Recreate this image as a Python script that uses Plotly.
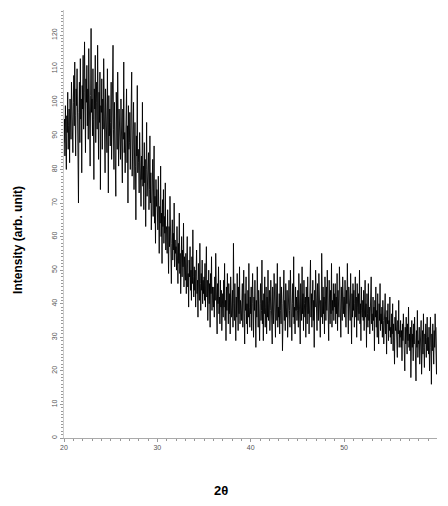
"""XRD pattern chart."""
import plotly.graph_objects as go

two_theta_start = 20.0
two_theta_step = 0.05

# intensity read per 0.05 deg, one row per degree (20 .. 59.95)
intensity_rows = [
    [88, 95, 84, 99, 90, 80, 96, 91, 103, 86, 93, 98, 82, 101, 94, 89, 106, 92, 97, 85],
    [100, 108, 93, 112, 96, 84, 104, 99, 110, 91, 102, 70, 97, 106, 88, 113, 95, 101, 79, 105],
    [98, 114, 92, 103, 118, 96, 85, 107, 100, 111, 93, 104, 89, 116, 99, 108, 81, 102, 122, 97],
    [101, 90, 110, 95, 77, 104, 98, 114, 88, 100, 106, 92, 117, 96, 83, 103, 94, 109, 74, 99],
    [97, 107, 86, 101, 92, 113, 89, 96, 79, 104, 93, 99, 85, 110, 95, 73, 102, 90, 98, 87],
    [94, 106, 83, 97, 89, 117, 92, 80, 100, 88, 95, 72, 103, 90, 86, 109, 93, 81, 98, 91],
    [92, 83, 101, 87, 94, 76, 98, 89, 112, 85, 91, 79, 96, 88, 104, 82, 93, 70, 99, 86],
    [88, 97, 80, 91, 85, 109, 78, 89, 83, 100, 74, 87, 94, 81, 65, 90, 84, 105, 79, 86],
    [82, 73, 91, 79, 86, 69, 84, 77, 100, 75, 81, 68, 88, 76, 83, 63, 80, 94, 72, 78],
    [76, 85, 68, 74, 90, 70, 79, 62, 75, 71, 83, 66, 73, 87, 64, 72, 58, 77, 69, 74],
    [70, 62, 78, 66, 55, 69, 64, 81, 60, 67, 52, 71, 63, 74, 58, 66, 61, 76, 56, 63],
    [62, 55, 68, 59, 49, 63, 57, 72, 54, 60, 46, 58, 65, 53, 61, 56, 70, 51, 59, 55],
    [57, 50, 63, 54, 46, 58, 52, 67, 49, 55, 43, 53, 60, 48, 56, 51, 64, 45, 54, 50],
    [47, 55, 43, 51, 60, 45, 49, 39, 53, 48, 57, 44, 50, 41, 54, 46, 62, 48, 42, 51],
    [44, 50, 39, 48, 56, 43, 47, 36, 52, 45, 41, 58, 46, 38, 49, 44, 53, 40, 47, 43],
    [48, 41, 52, 39, 45, 57, 42, 47, 35, 44, 50, 40, 46, 33, 49, 43, 54, 38, 45, 41],
    [39, 45, 36, 48, 41, 55, 38, 43, 31, 46, 40, 51, 37, 42, 34, 47, 39, 44, 32, 42],
    [43, 36, 47, 39, 52, 35, 41, 29, 45, 38, 49, 40, 34, 46, 37, 43, 31, 48, 39, 36],
    [37, 44, 33, 58, 40, 35, 46, 38, 29, 42, 36, 49, 39, 32, 45, 37, 51, 34, 41, 38],
    [35, 41, 46, 33, 39, 50, 37, 28, 43, 38, 48, 34, 40, 31, 44, 36, 52, 39, 33, 42],
    [37, 45, 32, 40, 49, 36, 30, 42, 38, 47, 34, 27, 41, 36, 51, 39, 33, 44, 37, 29],
    [40, 46, 35, 38, 53, 34, 41, 29, 43, 37, 48, 33, 39, 45, 31, 42, 36, 50, 35, 40],
    [44, 32, 38, 47, 36, 41, 28, 45, 39, 34, 49, 37, 42, 30, 46, 38, 35, 52, 33, 39],
    [36, 43, 31, 48, 38, 34, 45, 40, 26, 42, 37, 50, 35, 41, 32, 46, 39, 36, 44, 30],
    [41, 35, 47, 38, 33, 50, 37, 43, 29, 40, 46, 36, 54, 34, 39, 31, 45, 38, 42, 35],
    [38, 44, 33, 49, 36, 41, 28, 46, 39, 35, 51, 37, 43, 32, 47, 40, 36, 42, 30, 45],
    [39, 34, 48, 37, 42, 31, 46, 40, 53, 36, 43, 33, 38, 47, 35, 41, 27, 44, 39, 50],
    [37, 43, 32, 46, 40, 35, 49, 38, 44, 30, 41, 36, 55, 39, 34, 45, 37, 42, 31, 48],
    [40, 35, 45, 38, 50, 36, 42, 29, 47, 39, 34, 44, 37, 52, 33, 41, 38, 46, 35, 43],
    [39, 46, 34, 42, 37, 49, 32, 44, 40, 36, 51, 38, 43, 30, 45, 39, 35, 48, 41, 37],
    [42, 36, 47, 39, 33, 44, 40, 52, 37, 31, 45, 38, 41, 35, 49, 39, 28, 43, 36, 46],
    [38, 44, 33, 40, 48, 36, 42, 30, 46, 39, 35, 43, 37, 50, 34, 40, 29, 45, 38, 36],
    [41, 35, 44, 32, 38, 47, 36, 40, 27, 43, 37, 33, 46, 35, 39, 31, 42, 36, 48, 34],
    [37, 32, 42, 35, 39, 26, 41, 36, 45, 33, 38, 30, 43, 34, 28, 40, 35, 46, 32, 37],
    [34, 39, 30, 41, 35, 28, 37, 33, 43, 31, 36, 25, 38, 34, 40, 29, 35, 32, 42, 30],
    [33, 28, 37, 31, 40, 26, 34, 30, 22, 36, 32, 38, 29, 33, 24, 35, 31, 41, 27, 32],
    [30, 35, 27, 32, 23, 34, 29, 37, 26, 31, 20, 33, 28, 36, 30, 25, 34, 29, 39, 27],
    [31, 26, 33, 18, 29, 35, 27, 31, 23, 34, 28, 36, 25, 30, 17, 32, 27, 38, 24, 29],
    [28, 33, 22, 30, 26, 35, 19, 29, 32, 25, 37, 27, 21, 31, 28, 34, 24, 30, 36, 26],
    [30, 25, 33, 20, 28, 36, 27, 16, 31, 26, 34, 29, 22, 32, 27, 37, 24, 30, 19, 33],
]

intensity = [v for row in intensity_rows for v in row]
two_theta = [round(two_theta_start + i * two_theta_step, 2) for i in range(len(intensity))]

fig = go.Figure()
fig.add_trace(go.Scatter(x=two_theta, y=intensity, mode="lines",
                         line=dict(color="black", width=0.9), showlegend=False))

axis_font = dict(family="Arial, Liberation Sans", size=7, color="#555555")
fig.update_xaxes(range=[20, 59.95], tick0=20, dtick=10, ticks="outside", ticklen=3,
                 tickcolor="#999999", showline=True, linecolor="#aaaaaa", linewidth=1,
                 showgrid=False, zeroline=False, tickfont=axis_font,
                 minor=dict(dtick=1, ticks="outside", ticklen=2, tickcolor="#999999"))
fig.update_yaxes(range=[0, 127.5], tick0=0, dtick=10, ticks="outside", ticklen=3,
                 tickcolor="#999999", showline=True, linecolor="#cccccc", linewidth=1,
                 showgrid=False, zeroline=False, tickfont=axis_font, tickangle=-90,
                 minor=dict(dtick=1, ticks="outside", ticklen=2, tickcolor="#999999"))

fig.add_annotation(text="<b>2θ</b>", xref="paper", yref="paper", x=0.42, y=-0.122,
                   xanchor="center", yanchor="middle", showarrow=False,
                   font=dict(family="Arial, Liberation Sans", size=13, color="black"))
fig.add_annotation(text="<b>Intensity (arb. unit)</b>", xref="paper", yref="paper",
                   x=-0.123, y=0.463, xanchor="center", yanchor="middle",
                   textangle=-90, showarrow=False,
                   font=dict(family="Arial, Liberation Sans", size=12, color="black"))

# page body adds an 8px offset, so the figure is 8px smaller than the window
fig.update_layout(width=440, height=498, margin=dict(l=56, r=11, t=2, b=68),
                  plot_bgcolor="white", paper_bgcolor="white")
fig.write_html("out.html")
